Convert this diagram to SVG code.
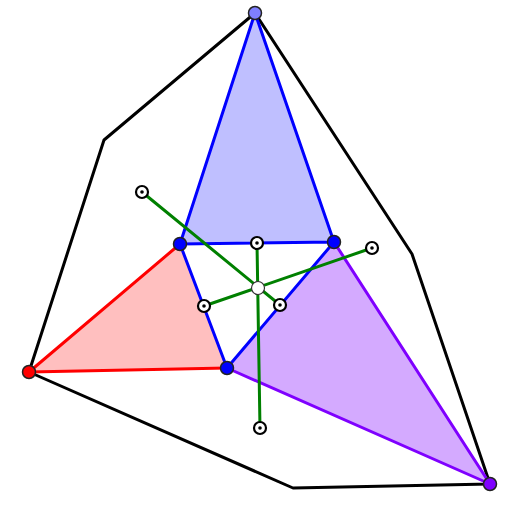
<svg xmlns="http://www.w3.org/2000/svg" width="512" height="512" viewBox="0 0 512 512">
<style>
.edge{fill:none;stroke-width:3;stroke-linecap:round;stroke-linejoin:round}
.mk{fill:#fff;stroke:#000;stroke-width:2.2}
.dot{fill:#000}
.v{stroke:#222;stroke-width:1.5}
</style>
<rect width="512" height="512" fill="#fff"/>
<g id="faces">
<polygon id="face-blue" points="255,13 180,244 334,242" fill="#bfbfff"/>
<polygon id="face-red" points="29,372 180,244 227,368" fill="#ffbfbf"/>
<polygon id="face-purple" points="334,242 227,368 490,484" fill="#d4aaff"/>
</g>
<g id="connectors">
<polyline class="edge" stroke="#000" points="255,13 412,254 490,484 293,488 29,372 104,140 255,13"/>
<line class="edge" stroke="#ff0000" x1="29" y1="372" x2="180" y2="244"/>
<line class="edge" stroke="#ff0000" x1="29" y1="372" x2="227" y2="368"/>
<line class="edge" stroke="#7f00ff" x1="334" y1="242" x2="490" y2="484"/>
<line class="edge" stroke="#7f00ff" x1="227" y1="368" x2="490" y2="484"/>
<polyline class="edge" stroke="#0000ff" points="180,244 255,13 334,242 180,244 227,368 334,242"/>
<line class="edge" stroke="#008000" x1="257" y1="243" x2="260" y2="428"/>
<line class="edge" stroke="#008000" x1="204" y1="306" x2="372" y2="248"/>
<line class="edge" stroke="#008000" x1="280" y1="305" x2="142" y2="192"/>
</g>
<g id="vT"><circle class="v" cx="255" cy="13" r="6.5" fill="#7f7fff"/></g>
<g id="vR"><circle class="v" cx="29" cy="372" r="6.5" fill="#ff0000"/></g>
<g id="vP"><circle class="v" cx="490" cy="484" r="6.5" fill="#7f00ff"/></g>
<g id="vA"><circle class="v" cx="180" cy="244" r="6.5" fill="#0000ff"/></g>
<g id="vB"><circle class="v" cx="334" cy="242" r="6.5" fill="#0000ff"/></g>
<g id="vC"><circle class="v" cx="227" cy="368" r="6.5" fill="#0000ff"/></g>
<g id="center"><circle cx="258" cy="288" r="6.5" fill="#fff" stroke="#333" stroke-width="1.2"/></g>
<g id="m1"><circle class="mk" cx="142" cy="192" r="6"/><circle class="dot" cx="142" cy="192" r="1.8"/></g>
<g id="m2"><circle class="mk" cx="257" cy="243" r="6"/><circle class="dot" cx="257" cy="243" r="1.8"/></g>
<g id="m3"><circle class="mk" cx="372" cy="248" r="6"/><circle class="dot" cx="372" cy="248" r="1.8"/></g>
<g id="m4"><circle class="mk" cx="204" cy="306" r="6"/><circle class="dot" cx="204" cy="306" r="1.8"/></g>
<g id="m5"><circle class="mk" cx="280" cy="305" r="6"/><circle class="dot" cx="280" cy="305" r="1.8"/></g>
<g id="m6"><circle class="mk" cx="260" cy="428" r="6"/><circle class="dot" cx="260" cy="428" r="1.8"/></g>
</svg>
